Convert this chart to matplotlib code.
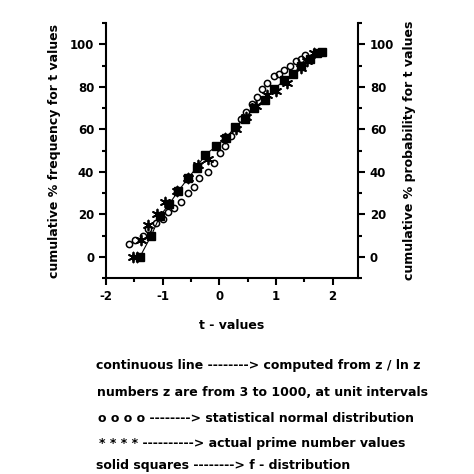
import numpy as np
import matplotlib.pyplot as plt

plt.rcParams['axes.unicode_minus'] = False

# f distribution (solid squares)
sq_t = [-1.4, -1.2, -1.05, -0.88, -0.72, -0.55, -0.4, -0.25, -0.05, 0.12, 0.28, 0.45, 0.62, 0.8, 0.97, 1.15, 1.3, 1.45, 1.6, 1.72, 1.82]
sq_y = [0, 10, 19, 25, 31, 37, 42, 48, 52, 56, 61, 65, 70, 74, 79, 83, 86, 90, 93, 96, 96.5]
# normal distribution (open circles)
ci_t = [-1.6, -1.48, -1.35, -1.25, -1.12, -1.0, -0.9, -0.8, -0.68, -0.55, -0.45, -0.35, -0.2, -0.1, 0.02,
        0.1, 0.2, 0.28, 0.38, 0.47, 0.57, 0.67, 0.75, 0.85, 0.97, 1.05, 1.15, 1.25, 1.35, 1.45, 1.52]
ci_y = [6, 8, 10, 13, 16, 18, 21, 23, 26, 30, 33, 37, 40, 44, 49, 52, 57, 61, 65, 68, 72, 75, 79, 82, 85, 86, 88, 90, 92, 93, 95]
# actual primes (stars)
st_t = [-1.52, -1.45, -1.38, -1.25, -1.1, -0.95, -0.75, -0.55, -0.38, -0.2, 0.1, 0.3, 0.48, 0.65, 0.85, 1.0, 1.2, 1.45, 1.55, 1.68]
st_y = [0, 0, 8, 15, 20, 26, 31, 37, 43, 46, 56, 60, 66, 71, 76, 78, 82, 89, 92, 96]

fig = plt.figure(figsize=(4.74, 4.74), dpi=100)
ax = fig.add_axes([106/474, 1-278/474, 252/474, 255/474])
ax.plot(sq_t, sq_y, color='black', lw=0.8)
ax.plot(sq_t, sq_y, 's', color='black', ms=5.5)
ax.plot(ci_t, ci_y, 'o', mfc='none', mec='black', ms=4.5, mew=1.1)
ax.scatter(st_t, st_y, marker=(6, 2, 0), s=50, color='black', lw=1.3)

ax.set_xlim(-2, 2.45)
ax.set_ylim(-10, 110)
ax.set_xticks([-2, -1, 0, 1, 2])
ax.set_xticks([-1.5, -0.5, 0.5, 1.5], minor=True)
ax.spines['top'].set_visible(False)
ax.spines['right'].set_visible(False)
ax.spines['left'].set_linewidth(1.5)
ax.spines['bottom'].set_linewidth(1.5)

ax2 = ax.twinx()
ax2.set_ylim(-10, 110)
ax2.spines['top'].set_visible(False)
ax2.spines['left'].set_visible(False)
ax2.spines['bottom'].set_visible(False)
ax2.spines['right'].set_linewidth(1.5)

for a in (ax, ax2):
    a.set_yticks([0, 20, 40, 60, 80, 100])
    a.set_yticks(np.arange(-10, 111, 10), minor=True)
    a.tick_params(which='major', length=5, width=1.5, labelsize=8.5)
    a.tick_params(which='minor', length=3, width=1.5)
    for lab in a.get_xticklabels() + a.get_yticklabels():
        lab.set_fontweight('bold')

ax.set_xlabel('t - values', fontsize=9, fontweight='bold', labelpad=12)
ax.set_ylabel('cumulative % frequency for t values', fontsize=9, fontweight='bold', labelpad=6)
ax2.set_ylabel('cumulative % probability for t values', fontsize=9, fontweight='bold', labelpad=6)

lines = ['continuous line --------> computed from z / ln z',
         'numbers z are from 3 to 1000, at unit intervals',
         'o o o o --------> statistical normal distribution',
         '* * * * ----------> actual prime number values',
         'solid squares --------> f - distribution']
ys = [366, 392, 418, 444, 466]
xs = [96, 97, 98, 99, 96]
for t, x, y in zip(lines, xs, ys):
    fig.text(x/474, 1-y/474, t, fontsize=9, fontweight='bold', ha='left', va='center')

fig.savefig('out.png', dpi=100)
